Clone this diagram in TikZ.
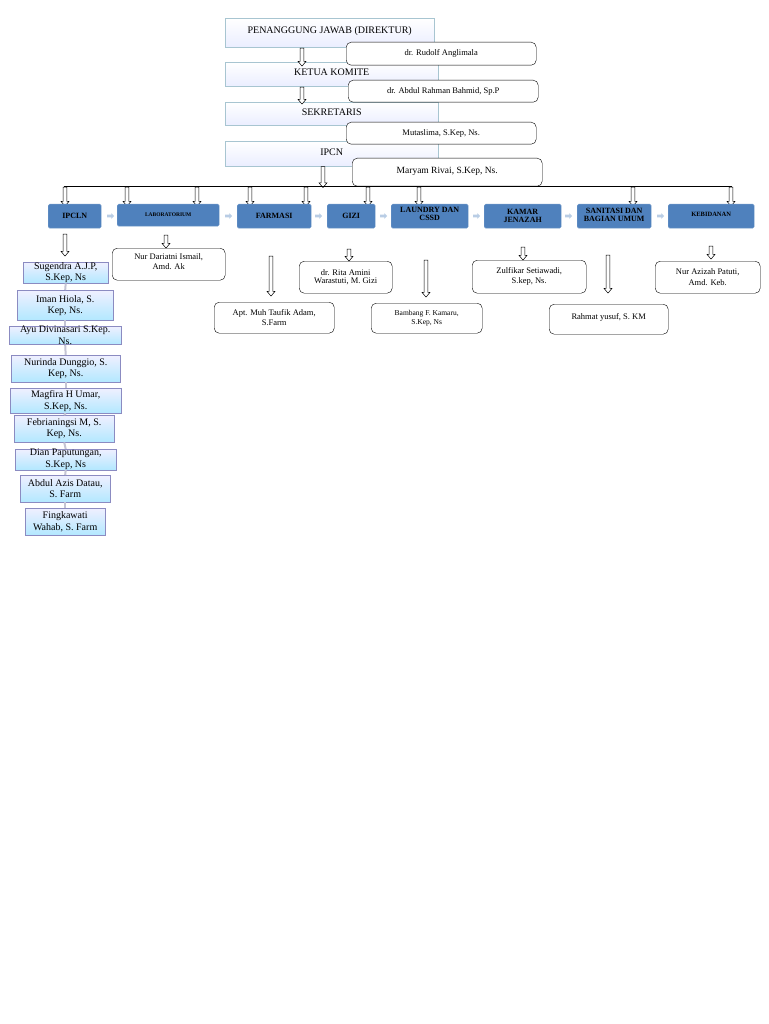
\documentclass[tikz,border=0pt]{standalone}
\usepackage{fontspec}
\setmainfont{Liberation Serif}
\usetikzlibrary{shapes.arrows,shadings}
\definecolor{hb}{HTML}{4F81BD}
\begin{document}
\begin{tikzpicture}[x=1pt,y=-1pt,
 top/.style={draw=cyan!35!gray!60, top color=white, bottom color=cyan!15!blue!8!white, minimum height=#1, inner sep=0pt, font=\fontsize{10}{11}\selectfont, anchor=north west, text depth=0pt},
 nm/.style={draw=black, rounded corners=5pt, fill=white, inner sep=1pt, align=center, font=\fontsize{8.5}{10}\selectfont, anchor=north west},
 bl/.style={fill=hb, draw=hb!80!white, rounded corners=1.5pt, inner sep=0pt, text=black, align=center, font=\bfseries\fontsize{8}{7.5}\selectfont, anchor=north west, minimum height=24},
 ls/.style={draw=blue!30!gray!70, top color=blue!6!white, bottom color=blue!30!cyan!30!white, inner sep=0pt, align=center, font=\fontsize{10}{9.5}\selectfont, anchor=north west},
 ha/.style={single arrow, draw=black, fill=white, shape border rotate=270, inner sep=1.6pt, single arrow head extend=2.2pt, single arrow tip angle=80, minimum height=#1, line width=0.5pt},
 sa/.style={single arrow, fill=hb!40!white, inner sep=1.2pt, single arrow head extend=1.5pt, minimum height=7},
]
\useasboundingbox[fill=white] (0,0) rectangle (768,1024);
% top chain
\node[top=29, minimum width=209] (pj) at (225,18) {\raisebox{5pt}{PENANGGUNG JAWAB (DIREKTUR)}};
\node[top=24, minimum width=213] (kk) at (225,62) {\raisebox{4pt}{KETUA KOMITE}};
\node[top=23, minimum width=213] (sk) at (225,102) {\raisebox{3pt}{SEKRETARIS}};
\node[top=25, minimum width=213] (ip) at (225,141) {\raisebox{4pt}{IPCN}};
\node[nm, minimum width=190, minimum height=23] (n1) at (346,42) {dr. Rudolf Anglimala};
\node[nm, minimum width=190, minimum height=22] (n2) at (348,80) {dr. Abdul Rahman Bahmid, Sp.P};
\node[nm, minimum width=190, minimum height=22] (n3) at (346,122) {Mutaslima, S.Kep, Ns.};
\node[nm, minimum width=190, minimum height=28, font=\fontsize{9.5}{11}\selectfont] (n4) at (352,158) {\raisebox{4pt}{Maryam Rivai, S.Kep, Ns.}};
\node[ha=18] (a1) at (302,56) {};
\node[ha=17] (a2) at (302,94.5) {};
\node[ha=21] (a3) at (323,176) {};
% horizontal bus
\coordinate (bl) at (64,186); \coordinate (br) at (732,186);
\draw[line width=0.8pt] (bl) -- (br);
\foreach \x in {65,127,197,250,306,368,419,633,731}{\node[ha=19] at (\x,195.5) {};}
% blue boxes
\node[bl, minimum width=53] (b1) at (48,204) {IPCLN};
\node[bl, minimum width=102, minimum height=22, font=\bfseries\fontsize{5.5}{6}\selectfont] (b2) at (117,204) {LABORATORIUM};
\node[bl, minimum width=74] (b3) at (237,204) {FARMASI};
\node[bl, minimum width=48] (b4) at (327,204) {GIZI};
\node[bl, minimum width=77] (b5) at (391,204) {\raisebox{5pt}{\shortstack{LAUNDRY DAN\\CSSD}}};
\node[bl, minimum width=77] (b6) at (484,204) {\shortstack{KAMAR\\JENAZAH}};
\node[bl, minimum width=74] (b7) at (577,204) {\raisebox{3pt}{\shortstack{SANITASI DAN\\BAGIAN UMUM}}};
\node[bl, minimum width=86, font=\bfseries\fontsize{6.5}{7}\selectfont] (b8) at (668,204) {\raisebox{3pt}{KEBIDANAN}};
\foreach \x in {110,228,318,383,476,568,660}{\node[sa] at (\x,216) {};}
% names under departments
\node[nm, minimum width=113, minimum height=32] (m2) at (112,248) {\raisebox{6pt}{\shortstack{Nur Dariatni Ismail,\\Amd. Ak}}};
\node[nm, minimum width=120, minimum height=31] (m3) at (214,302) {\shortstack{Apt. Muh Taufik Adam,\\S.Farm}};
\node[nm, minimum width=93, minimum height=32] (m4) at (299,261) {\shortstack{dr. Rita Amini\\Warastuti, M. Gizi}};
\node[nm, minimum width=111, minimum height=30, font=\fontsize{7.5}{9}\selectfont] (m5) at (371,303) {\shortstack{Bambang F. Kamaru,\\S.Kep, Ns}};
\node[nm, minimum width=114, minimum height=33] (m6) at (472,260) {\raisebox{3pt}{\shortstack{Zulfikar Setiawadi,\\S.kep, Ns.}}};
\node[nm, minimum width=119, minimum height=30] (m7) at (549,304) {\raisebox{6pt}{Rahmat yusuf, S. KM}};
\node[nm, minimum width=105, minimum height=32] (m8) at (655,261) {\shortstack{Nur Azizah Patuti,\\Amd. Keb.}};
\node[ha=13] at (166,240.5) {};
\node[ha=40] at (271,275) {};
\node[ha=12] at (349,254) {};
\node[ha=37] at (426,277.5) {};
\node[ha=13] at (523,252.5) {};
\node[ha=38] at (608,273) {};
\node[ha=13] at (711,251.5) {};
\node[ha=22] at (65,244) {};
% left list
\node[ls, minimum width=85, minimum height=21] (l1) at (23,262) {\shortstack{Sugendra A.J.P,\\S.Kep, Ns}};
\node[ls, minimum width=96, minimum height=30] (l2) at (17,290) {\shortstack{Iman Hiola, S.\\Kep, Ns.}};
\node[ls, minimum width=112, minimum height=16] (l3) at (9,326) {\shortstack{Ayu Divinasari S.Kep.\\Ns.}};
\node[ls, minimum width=109, minimum height=27] (l4) at (11,355) {\shortstack{Nurinda Dunggio, S.\\Kep, Ns.}};
\node[ls, minimum width=111, minimum height=25] (l5) at (10,388) {\shortstack{Magfira H Umar,\\S.Kep, Ns.}};
\node[ls, minimum width=100, minimum height=27] (l6) at (14,415) {\shortstack{Febrianingsi M, S.\\Kep, Ns.}};
\node[ls, minimum width=101, minimum height=20] (l7) at (15,449) {\shortstack{Dian Paputungan,\\S.Kep, Ns}};
\node[ls, minimum width=90, minimum height=27] (l8) at (20,475) {\shortstack{Abdul Azis Datau,\\S. Farm}};
\node[ls, minimum width=80, minimum height=27] (l9) at (25,508) {\shortstack{Fingkawati\\Wahab, S. Farm}};
\foreach \a/\b in {l1/l2,l2/l3,l3/l4,l4/l5,l5/l6,l6/l7,l7/l8,l8/l9}{\draw[blue!15!gray!40, line width=2pt] (\a.south) -- (\b.north);}
\end{tikzpicture}
\end{document}
